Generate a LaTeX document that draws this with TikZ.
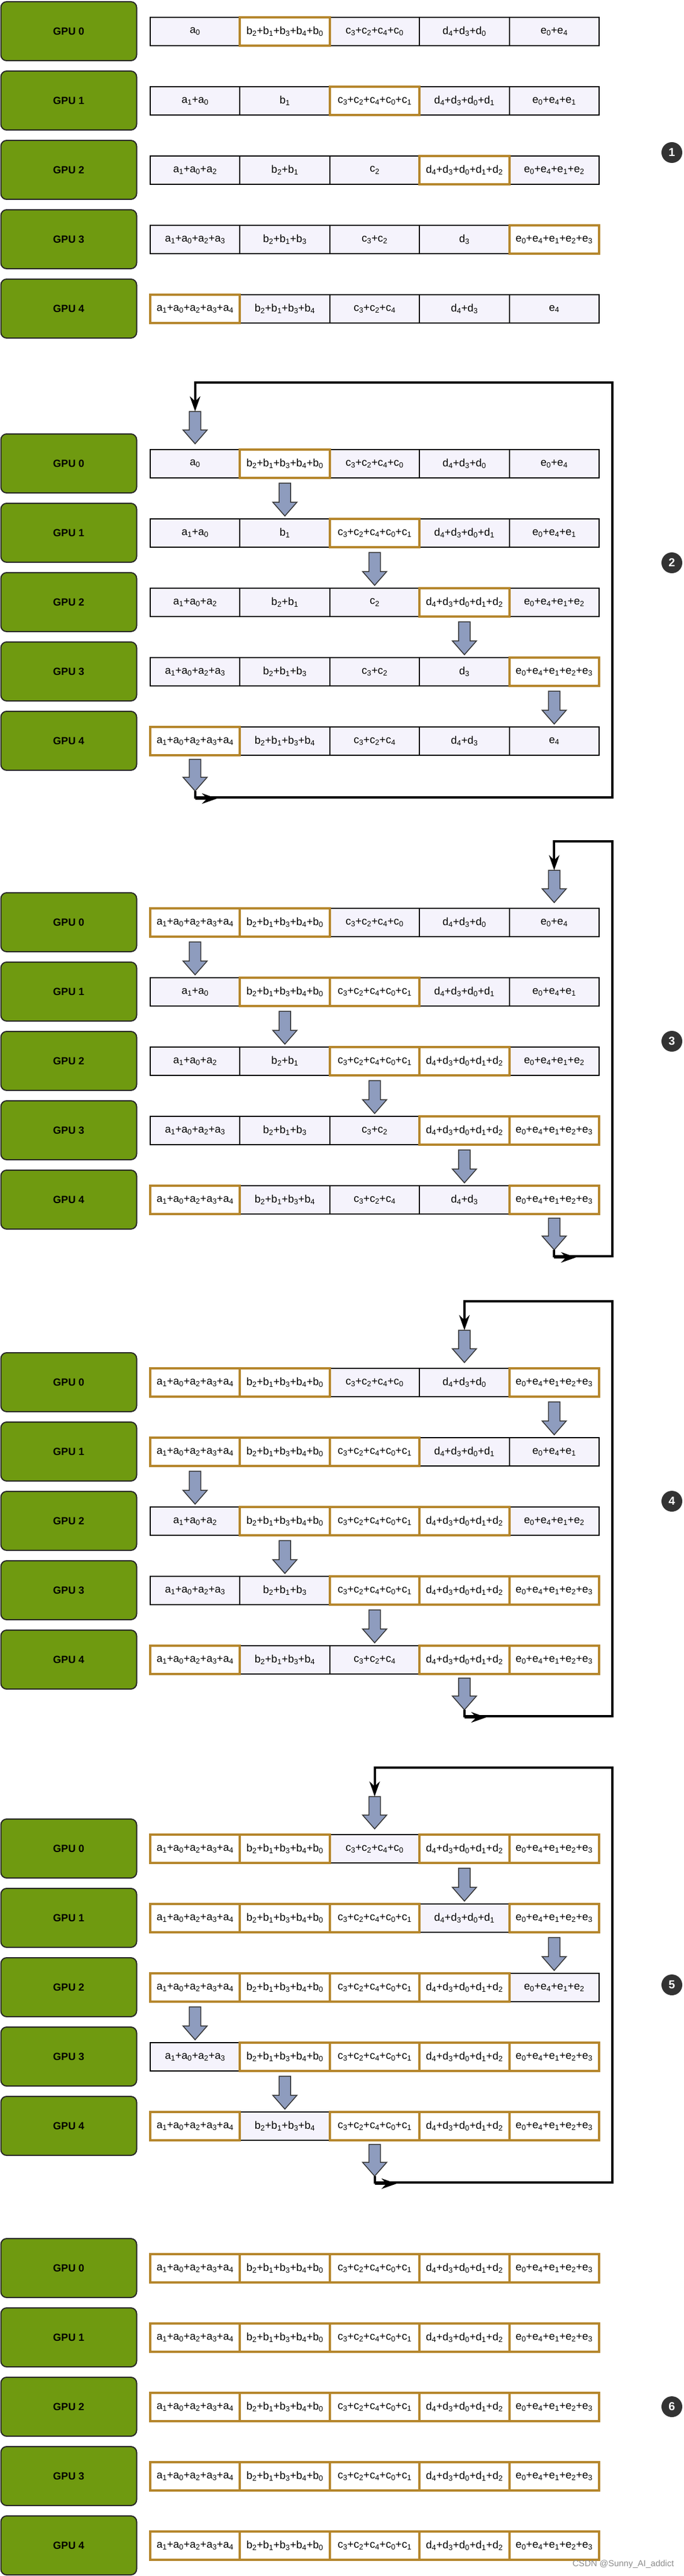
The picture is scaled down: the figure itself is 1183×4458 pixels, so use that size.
\documentclass[tikz,border=0pt]{standalone}
\usepackage{fontspec}
\setmainfont{Liberation Sans}
\usetikzlibrary{calc,arrows.meta}
\definecolor{gpugreen}{HTML}{6F9A10}
\definecolor{cellfill}{HTML}{F5F3FC}
\definecolor{hl}{HTML}{B5862C}
\definecolor{barrowc}{HTML}{8E9CBE}
\newcommand\sbx[1]{\textsubscript{#1}}
\expandafter\def\csname o00\endcsname{a\sbx0}
\expandafter\def\csname o01\endcsname{b\sbx2+b\sbx1+b\sbx3+b\sbx4+b\sbx0}
\expandafter\def\csname o02\endcsname{c\sbx3+c\sbx2+c\sbx4+c\sbx0}
\expandafter\def\csname o03\endcsname{d\sbx4+d\sbx3+d\sbx0}
\expandafter\def\csname o04\endcsname{e\sbx0+e\sbx4}
\expandafter\def\csname o10\endcsname{a\sbx1+a\sbx0}
\expandafter\def\csname o11\endcsname{b\sbx1}
\expandafter\def\csname o12\endcsname{c\sbx3+c\sbx2+c\sbx4+c\sbx0+c\sbx1}
\expandafter\def\csname o13\endcsname{d\sbx4+d\sbx3+d\sbx0+d\sbx1}
\expandafter\def\csname o14\endcsname{e\sbx0+e\sbx4+e\sbx1}
\expandafter\def\csname o20\endcsname{a\sbx1+a\sbx0+a\sbx2}
\expandafter\def\csname o21\endcsname{b\sbx2+b\sbx1}
\expandafter\def\csname o22\endcsname{c\sbx2}
\expandafter\def\csname o23\endcsname{d\sbx4+d\sbx3+d\sbx0+d\sbx1+d\sbx2}
\expandafter\def\csname o24\endcsname{e\sbx0+e\sbx4+e\sbx1+e\sbx2}
\expandafter\def\csname o30\endcsname{a\sbx1+a\sbx0+a\sbx2+a\sbx3}
\expandafter\def\csname o31\endcsname{b\sbx2+b\sbx1+b\sbx3}
\expandafter\def\csname o32\endcsname{c\sbx3+c\sbx2}
\expandafter\def\csname o33\endcsname{d\sbx3}
\expandafter\def\csname o34\endcsname{e\sbx0+e\sbx4+e\sbx1+e\sbx2+e\sbx3}
\expandafter\def\csname o40\endcsname{a\sbx1+a\sbx0+a\sbx2+a\sbx3+a\sbx4}
\expandafter\def\csname o41\endcsname{b\sbx2+b\sbx1+b\sbx3+b\sbx4}
\expandafter\def\csname o42\endcsname{c\sbx3+c\sbx2+c\sbx4}
\expandafter\def\csname o43\endcsname{d\sbx4+d\sbx3}
\expandafter\def\csname o44\endcsname{e\sbx4}
\expandafter\def\csname f0\endcsname{a\sbx1+a\sbx0+a\sbx2+a\sbx3+a\sbx4}
\expandafter\def\csname f1\endcsname{b\sbx2+b\sbx1+b\sbx3+b\sbx4+b\sbx0}
\expandafter\def\csname f2\endcsname{c\sbx3+c\sbx2+c\sbx4+c\sbx0+c\sbx1}
\expandafter\def\csname f3\endcsname{d\sbx4+d\sbx3+d\sbx0+d\sbx1+d\sbx2}
\expandafter\def\csname f4\endcsname{e\sbx0+e\sbx4+e\sbx1+e\sbx2+e\sbx3}
\newcommand\barr[3]{%
  \coordinate (ba) at ($(#1)+(0,#2)$);
  \coordinate (bb) at ($(#1)+(0,#3)$);
  \draw[blockarrow] ([xshift=-10pt]ba) -- ([xshift=10pt]ba) -- ([xshift=10pt,yshift=24pt]bb)
    -- ([xshift=21pt,yshift=24pt]bb) -- (bb) -- ([xshift=-21pt,yshift=24pt]bb)
    -- ([xshift=-10pt,yshift=24pt]bb) -- cycle;}
\tikzset{
  gpu/.style={rectangle,rounded corners=10pt,fill=gpugreen,draw=black!85,line width=2pt,
    minimum width=235pt,minimum height=102pt,inner sep=0pt,font=\fontsize{18}{20}\selectfont\bfseries},
  cell/.style={rectangle,fill=cellfill,draw=black,line width=2pt,minimum width=155.4pt,
    minimum height=49pt,inner sep=0pt,font=\fontsize{18.5}{20}\selectfont},
  fullcell/.style={cell,fill=white,draw=hl,line width=4pt},
  badge/.style={circle,fill=black!80,text=white,minimum size=36pt,inner sep=0pt,
    font=\fontsize{20}{22}\selectfont\bfseries},
  blockarrow/.style={fill=barrowc,draw=black!80,line width=1.5pt,line join=miter},
  loopline/.style={line width=4pt,line join=miter},
}
\begin{document}
\begin{tikzpicture}[x=1pt,y=-1pt]
\useasboundingbox[fill=white] (0,0) rectangle (1183,4458);
\foreach \s/\T/\co in {1/2/262,2/750/224,3/1544/258,4/2340/258,5/3147/288,6/3873/292}{
  \pgfmathtruncatemacro\nf{max(1,\s-1)}
  \node[badge] (n-\s) at (1163,\T+\co) {\s};
  \foreach \i in {0,...,4}{
    \node[gpu] (g-\s-\i) at (119,\T+120*\i+52) {GPU \i};
    \foreach \j in {0,...,4}{
      \pgfmathtruncatemacro\d{mod(\i-\j+6,5)}
      \ifnum\d<\nf\relax\else
        \node[cell] (c-\s-\i-\j) at (337.7+155.4*\j,\T+120*\i+52.5) {\csname o\i\j\endcsname};
      \fi
    }
    \foreach \j in {0,...,4}{
      \pgfmathtruncatemacro\d{mod(\i-\j+6,5)}
      \ifnum\d<\nf\relax
        \node[fullcell] (c-\s-\i-\j) at (337.7+155.4*\j,\T+120*\i+52.5) {\csname f\j\endcsname};
      \fi
    }
  }
}
\foreach \s/\c/\T in {2/0/750,3/4/1544,4/3/2340,5/2/3147}{
  \barr{c-\s-0-\c.north}{-65}{-9}
  \foreach \i in {0,...,3}{
    \pgfmathtruncatemacro\jj{mod(\c+\i+1,5)}
    \barr{c-\s-\i-\jj.south}{7}{64}
  }
  \barr{c-\s-4-\c.south}{5}{60}
  \coordinate (lt-\s) at ($(c-\s-4-\c.south)+(0,60)$);
  \coordinate (lb-\s) at ($(c-\s-4-\c.south)+(0,73)$);
  \coordinate (lr-\s) at (1060,\T+630);
  \coordinate (ltop-\s) at ($(c-\s-0-\c.north)+(0,-115)$);
  \coordinate (lend-\s) at ($(c-\s-0-\c.north)+(0,-65)$);
  \draw[loopline,-{Stealth[length=26pt,width=18pt]}] (lt-\s) |- (lr-\s) |- (ltop-\s) -- (lend-\s);
  \draw[loopline,-{Stealth[length=26pt,width=18pt]}] (lb-\s) -- ++(38,0);
}
\node[anchor=east,text=black!45,font=\fontsize{15}{17}\selectfont] (wm) at (1170,4438) {CSDN @Sunny\_AI\_addict};
\end{tikzpicture}
\end{document}
